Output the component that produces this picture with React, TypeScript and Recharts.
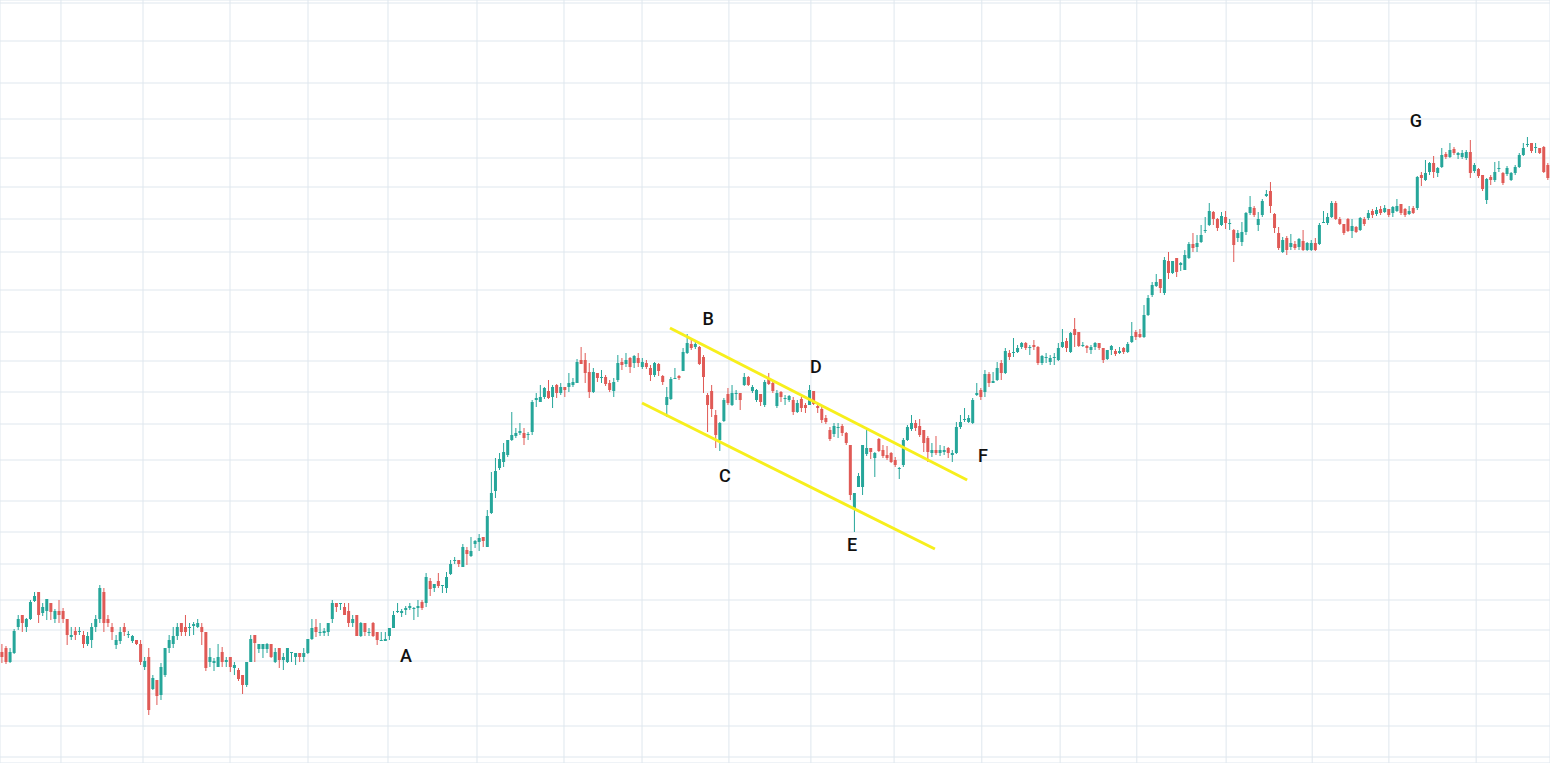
import React from 'react';
import { ComposedChart, Bar, XAxis, YAxis, CartesianGrid, ReferenceLine, ReferenceDot } from 'recharts';

// Each candle: [open, high, low, close]
type Candle = [number, number, number, number];

const seg1: Candle[] = [
  [148,156,137,143],[152,154,136,138],[138,152,137,148],[147,171,146,169],[173,185,170,181],
  [185,185,168,177],[173,182,168,181],[181,200,180,198],[199,208,198,204],[208,208,177,185],
  [187,197,184,193],[189,201,180,201],[197,197,180,188],[181,191,177,189],[189,200,177,185],
  [189,192,177,181],[181,181,155,165],[163,173,160,165],[169,173,160,165],[168,173,165,169],
  [165,169,152,156],[156,168,154,164],[160,177,152,173],[173,185,168,181],[181,215,177,212],
  [208,212,168,177],[181,185,173,177],[173,177,160,168],[155,165,151,160],[159,173,156,168],
  [173,177,164,168],[165,169,162,166],[159,165,157,164],[160,160,155,156],[156,160,135,138],
  [133,143,130,139],[143,152,85,90],[111,125,110,122],[120,120,95,104],[105,137,100,133],
  [125,152,123,152],[152,165,147,160],[156,173,152,164],[164,177,160,173],[177,177,164,168],
  [173,185,164,168],[172,177,164,173],
];

const seg2: Candle[] = [
  [174,178,165,176],[173,181,172,177],[173,177,155,168],[168,168,129,132],[138,152,133,143],
  [137,142,129,139],[133,156,133,143],[148,153,133,138],[138,143,133,140],[143,143,128,133],
  [132,138,125,135],[130,132,119,121],[125,125,106,115],[115,138,113,138],[138,165,138,161],
  [165,165,138,157],[151,156,147,156],[151,156,142,156],[151,157,147,156],[156,156,142,143],
  [138,152,137,148],[152,152,132,140],[140,147,130,143],[138,152,137,152],[147,148,138,148],
  [143,147,135,147],[147,147,138,143],[143,152,138,147],[147,161,146,161],[161,181,160,172],
  [173,181,163,168],[167,177,164,168],[167,172,164,169],[168,177,164,177],[181,200,177,197],
  [197,197,188,193],[196,197,190,197],[193,197,185,185],[189,197,173,177],[177,185,173,181],
  [185,185,164,164],[164,178,163,177],[177,177,164,168],[167,172,164,168],[177,178,163,164],
  [168,168,155,160],[159,168,159,160],[159,168,159,161],[164,172,160,172],[172,189,172,185],
  [188,197,187,189],
];

const seg3: Candle[] = [
  [187,191,183,189],[190,194,185,192],[192,197,190,194],[191,193,180,192],[192,200,183,194],
  [198,200,190,192],[197,227,193,223],[219,222,204,211],[212,216,208,216],[219,227,212,214],
  [214,215,207,215],[212,228,207,223],[226,240,225,236],[239,243,236,240],[240,240,233,236],
  [233,256,233,253],[250,253,235,246],[244,263,243,249],[256,260,252,259],[258,266,249,262],
  [263,263,253,259],[253,290,253,284],[287,328,286,307],[309,342,302,329],[332,347,330,341],
  [338,357,333,348],[345,360,343,360],[360,388,359,365],[364,372,362,367],[367,377,365,369],
  [367,372,355,362],[365,368,360,366],[368,400,365,398],[400,407,393,402],[398,415,398,403],
  [403,413,401,412],[409,420,401,402],[403,415,392,413],[415,416,402,407],[407,417,405,413],
  [413,413,403,410],[413,427,408,417],[415,422,413,418],[417,441,417,438],[440,453,436,436],
  [440,447,417,427],[428,437,402,408],[408,432,407,428],[427,427,418,422],
];

const seg4: Candle[] = [
  [422,430,417,423],[423,425,414,416],[417,420,408,410],[409,422,403,418],[420,445,418,437],
  [438,442,430,435],[436,447,433,440],[442,443,427,433],[437,445,432,444],[442,447,433,437],
  [433,442,431,438],[437,440,431,433],[432,435,419,425],[425,438,423,437],[436,437,424,429],
  [424,425,415,418],[395,413,383,403],[401,423,400,421],[421,432,421,422],[424,425,420,422],
  [429,452,429,448],[447,466,446,457],[456,460,450,452],[453,459,451,456],[453,454,435,436],
  [443,445,407,423],[405,407,368,395],[409,415,383,391],[385,390,352,365],[360,378,349,377],
  [379,402,378,400],[406,412,395,397],[395,415,394,407],[406,410,400,407],[407,407,390,400],
  [415,427,414,423],[423,424,414,415],[409,415,407,413],[400,411,398,410],[406,406,394,398],
  [395,420,393,418],[422,427,415,416],[417,418,407,409],[394,410,392,407],[408,409,398,403],
  [401,405,395,402],[400,405,398,404],[400,403,385,388],[388,400,387,397],
];

const seg5: Candle[] = [
  [401,403,388,392],[395,397,387,392],[395,415,395,410],[409,409,395,396],[394,397,387,392],
  [391,393,377,380],[382,385,376,378],[370,373,359,361],[366,377,363,374],[372,377,362,373],
  [374,376,364,367],[367,368,355,357],[355,355,300,305],[290,307,268,307],[313,327,313,324],
  [313,355,305,355],[346,370,344,352],[352,352,341,348],[342,348,323,347],[361,362,348,349],
  [350,355,342,344],[345,354,340,342],[347,348,337,338],[340,343,333,335],[331,333,321,332],
  [335,362,333,360],[360,375,359,373],[371,385,369,377],[377,380,369,372],[374,381,363,365],
  [370,370,348,357],[362,364,338,348],[347,357,343,350],[350,364,345,347],[347,355,344,350],
  [348,354,345,350],[352,353,342,347],[345,350,338,347],[347,378,346,373],[373,385,371,378],
  [380,392,378,381],[378,385,377,382],[377,402,376,400],[405,417,404,407],[410,412,400,403],
  [408,430,403,426],
];

const seg6: Candle[] = [
  [426,428,413,417],[417,428,417,419],[420,438,419,432],[437,440,420,427],[427,452,426,449],
  [447,450,440,443],[447,462,443,448],[448,455,447,452],[453,458,451,457],[457,458,450,452],
  [452,455,445,453],[455,460,450,453],[453,454,435,437],[437,445,435,444],[442,447,437,443],
  [438,445,435,442],[442,447,435,443],[440,457,439,452],[453,471,452,458],[459,462,448,452],
  [448,468,447,467],[471,482,453,465],[468,468,453,454],[454,458,453,455],[454,455,447,452],
  [450,455,446,453],[453,458,450,457],[457,457,450,452],[452,452,437,440],[441,450,440,450],
  [450,455,445,454],[449,451,444,446],[447,453,446,449],[452,453,446,448],[448,458,447,456],
  [458,478,457,464],[468,470,460,463],[466,471,462,463],[463,495,462,485],[485,505,484,502],
  [505,518,503,515],[514,526,513,518],[521,521,507,512],[507,543,505,540],[539,548,521,527],
  [527,539,526,539],[542,542,523,528],
];

const seg7: Candle[] = [
  [535,538,529,537],[530,550,530,545],[542,558,541,556],[556,567,548,552],[553,565,548,557],
  [558,575,557,565],[569,583,567,570],[575,597,574,589],[588,589,575,581],[581,582,569,572],
  [575,588,574,584],[583,589,571,577],[576,581,570,577],[570,571,538,555],[562,570,558,567],
  [558,578,554,568],[568,588,565,587],[587,604,585,593],[592,594,583,585],[575,588,569,581],
  [585,601,583,599],[604,610,603,606],[609,618,587,594],[586,587,567,572],[567,573,550,552],
  [548,563,547,560],[562,564,545,550],[553,566,550,557],[556,559,550,552],[553,562,550,561],
  [559,570,549,550],[550,558,549,557],[550,560,549,557],[557,562,549,550],[556,577,555,575],
  [577,589,577,578],[577,587,575,583],[583,599,582,597],[597,599,580,581],[581,583,575,576],
  [576,576,565,567],[581,582,568,569],[569,581,562,574],[573,574,567,568],[570,583,569,582],
  [581,583,574,576],
];

const seg8: Candle[] = [
  [582,590,580,587],[589,591,582,585],[586,593,584,590],[591,594,585,587],[588,595,587,592],
  [591,591,583,585],[587,594,583,593],[589,601,588,594],[596,596,585,587],[591,592,583,585],
  [586,594,585,589],[592,594,586,587],[592,624,590,623],[625,628,614,622],[620,640,619,627],
  [628,638,625,637],[637,644,622,628],[627,633,623,632],[633,652,632,645],[646,648,641,643],
  [643,657,642,650],[651,653,645,647],[645,648,641,647],[643,650,641,647],[642,650,640,648],
  [648,660,622,627],[629,637,627,635],[631,632,622,624],[625,625,609,611],[600,622,596,621],
  [623,625,615,620],[620,638,618,628],[631,639,628,632],[627,628,615,617],[626,634,624,632],
  [620,628,619,627],[627,635,625,633],[633,647,632,645],[645,657,644,652],[655,663,653,656],
  [657,657,647,649],[652,657,647,653],[652,652,646,647],[653,654,627,628],[635,637,620,622],
];

const candles: Candle[] = [...seg1, ...seg2, ...seg3, ...seg4, ...seg5, ...seg6, ...seg7, ...seg8];

// Grid tick values (price levels and session positions)
const gridPrices = [797, 759, 717, 681, 642, 613, 581, 548, 510, 468, 439, 408, 376, 340, 299, 268, 236, 200, 170, 139, 106, 74, 43];
const gridSessions = [14.45, 34.56, 55.89, 75.01, 94.62, 116.44, 137.77, 156.9, 178.2, 198.3, 218.7, 240.2, 259.4, 278.2, 300.1, 321.2, 340.0, 361.4];

// Pattern markers
const markerLabels = ['A', 'B', 'C', 'D', 'E', 'F', 'G'];
const markerSessions = [99.0, 173.1, 177.2, 199.5, 208.4, 240.5, 346.6];
const markerPrices = [144, 481, 324, 433, 255, 344, 679];

// Channel lines
const upperChannel = [{ x: 163.75, y: 472 }, { x: 236.6, y: 320 }];
const lowerChannel = [{ x: 156.9, y: 397 }, { x: 228.7, y: 251 }];

const GREEN = '#26a69a';
const RED = '#e05a56';
const GRID = '#dfe7ee';
const YELLOW = '#f7ef1c';
const BODY_W = 3;

const data = candles.map(([o, h, l, c], i) => ({
  i,
  open: o,
  high: Math.max(h, o, c),
  low: Math.min(l, o, c),
  close: c,
  range: [Math.min(l, o, c), Math.max(h, o, c)],
}));

const CandleShape = (props: any) => {
  const { x, y, width, height, payload } = props;
  if (!payload) return null;
  const { open, high, low, close } = payload;
  const top = Math.min(y, y + height);
  const h = Math.abs(height);
  const span = high - low;
  const k = span > 0 ? h / span : 1;
  const cx = x + width / 2;
  const up = close >= open;
  const color = up ? GREEN : RED;
  const bodyTop = top + (high - Math.max(open, close)) * k;
  const bodyH = Math.max(Math.abs(close - open) * k, 1);
  return (
    <g>
      <line x1={cx} x2={cx} y1={top} y2={top + h} stroke={color} strokeWidth={1} />
      <rect x={cx - BODY_W / 2} y={bodyTop} width={BODY_W} height={bodyH} fill={color} />
    </g>
  );
};

export default function App() {
  return (
    <div style={{ width: 1550, height: 763, background: '#ffffff' }}>
      <style>{'body{margin:0;background:#fff;}'}</style>
      <ComposedChart width={1550} height={763} data={data} margin={{ top: 0, right: 0, bottom: 0, left: 0 }}>
        <XAxis xAxisId="cat" dataKey="i" type="category" hide />
        <XAxis
          xAxisId="num"
          dataKey="i"
          type="number"
          domain={[-0.5, 379.5]}
          ticks={gridSessions}
          interval={0}
          allowDataOverflow
          hide
        />
        <YAxis
          type="number"
          domain={[37, 800]}
          ticks={gridPrices}
          interval={0}
          allowDataOverflow
          hide
        />
        <CartesianGrid xAxisId="num" stroke={GRID} strokeWidth={1} />
        <ReferenceLine xAxisId="num" segment={upperChannel} stroke={YELLOW} strokeWidth={3} ifOverflow="visible" />
        <ReferenceLine xAxisId="num" segment={lowerChannel} stroke={YELLOW} strokeWidth={3} ifOverflow="visible" />
        <Bar
          xAxisId="cat"
          dataKey="range"
          isAnimationActive={false}
          shape={<CandleShape />}
        />
        {markerLabels.map((m, idx) => (
          <ReferenceDot
            key={m}
            xAxisId="num"
            x={markerSessions[idx]}
            y={markerPrices[idx]}
            r={0}
            fill="none"
            stroke="none"
            ifOverflow="visible"
            label={{
              value: m,
              position: 'center',
              fill: '#111111',
              fontSize: 18,
              fontWeight: 500,
              fontFamily: 'Roboto, "Liberation Sans", sans-serif',
            }}
          />
        ))}
      </ComposedChart>
    </div>
  );
}
